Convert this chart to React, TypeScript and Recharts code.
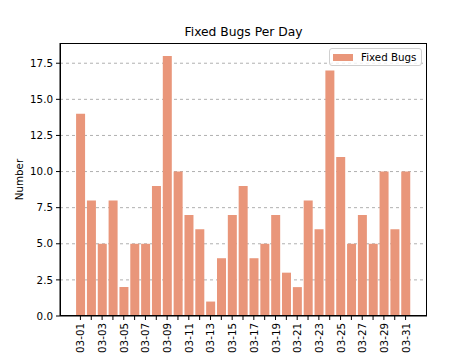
import { BarChart, Bar, XAxis, YAxis, CartesianGrid, Legend } from "recharts";

const days = [
  "03-01", "03-02", "03-03", "03-04", "03-05", "03-06", "03-07", "03-08",
  "03-09", "03-10", "03-11", "03-12", "03-13", "03-14", "03-15", "03-16",
  "03-17", "03-18", "03-19", "03-20", "03-21", "03-22", "03-23", "03-24",
  "03-25", "03-26", "03-27", "03-28", "03-29", "03-30", "03-31",
];
const fixedBugs = [
  14, 8, 5, 8, 2, 5, 5, 9, 18, 10, 7, 6, 1, 4, 7, 9,
  4, 5, 7, 3, 2, 8, 6, 17, 11, 5, 7, 5, 10, 6, 10,
];
const yTicks = [0, 2.5, 5, 7.5, 10, 12.5, 15, 17.5];

const data = days.map((d, i) => ({ day: d, bugs: fixedBugs[i] }));

const font = "DejaVu Sans, sans-serif";
const barColor = "#e9967a";

function DayTick(props: any) {
  const { x, y, payload, index } = props;
  // labels only on every other day, tick marks on all
  if (index % 2 !== 0) return <g />;
  return (
    <text
      x={x}
      y={y}
      transform={`rotate(-90, ${x}, ${y})`}
      textAnchor="end"
      dominantBaseline="central"
      fontSize={10.3}
      fontFamily={font}
      fill="#000"
    >
      {payload.value}
    </text>
  );
}

function LegendBox(props: any) {
  const item = props.payload?.[0];
  return (
    <div
      style={{
        width: 91,
        height: 16,
        border: "1px solid #d0d0d0",
        borderRadius: 3,
        background: "rgba(255,255,255,0.8)",
        display: "flex",
        alignItems: "center",
        fontFamily: font,
        fontSize: 10.3,
      }}
    >
      <span style={{ width: 20, height: 7, background: item?.color ?? barColor, marginLeft: 3, marginRight: 8 }} />
      <span>{item?.value ?? "Fixed Bugs"}</span>
    </div>
  );
}

export default function App() {
  return (
    <div style={{ position: "absolute", left: 0, top: 0, width: 474, height: 355, background: "#fff" }}>
      <div
        style={{
          position: "absolute",
          left: 60,
          width: 367,
          top: 25,
          textAlign: "center",
          fontFamily: font,
          fontSize: 12.3,
        }}
      >
        Fixed Bugs Per Day
      </div>
      <BarChart
        width={474}
        height={355}
        data={data}
        margin={{ top: 43, right: 47, bottom: 0, left: 0 }}
      >
        <CartesianGrid vertical={false} horizontalValues={yTicks.slice(1)} stroke="#b0b0b0" strokeDasharray="3 3" />
        <XAxis
          dataKey="day"
          interval={0}
          padding={{ left: 15, right: 16 }}
          height={39}
          tickSize={4}
          tickMargin={3}
          tick={<DayTick />}
          stroke="#000"
          axisLine={{ stroke: "#000" }}
          tickLine={{ stroke: "#000" }}
        />
        <YAxis
          width={60}
          domain={[0, 18.9]}
          ticks={yTicks}
          tickFormatter={(v: number) => v.toFixed(1)}
          tickSize={4}
          tickMargin={3}
          tick={{ fill: "#000", fontSize: 10.3, fontFamily: font }}
          axisLine={{ stroke: "#000" }}
          tickLine={{ stroke: "#000" }}
          label={{
            value: "Number",
            angle: -90,
            position: "insideLeft",
            offset: 19,
            style: { textAnchor: "middle", fontFamily: font, fontSize: 10.3, fill: "#000" },
          }}
        />
        <Legend
          layout="vertical"
          align="center"
          verticalAlign="middle"
          content={<LegendBox />}
          wrapperStyle={{ top: 48, left: 329, width: 93 }}
        />
        <Bar dataKey="bugs" name="Fixed Bugs" fill={barColor} isAnimationActive={false} />
      </BarChart>
      {/* axes frame (top/right spines) */}
      <div
        style={{
          position: "absolute",
          left: 60,
          top: 43,
          width: 367,
          height: 273,
          boxSizing: "border-box",
          border: "1px solid #000",
          pointerEvents: "none",
        }}
      />
    </div>
  );
}
